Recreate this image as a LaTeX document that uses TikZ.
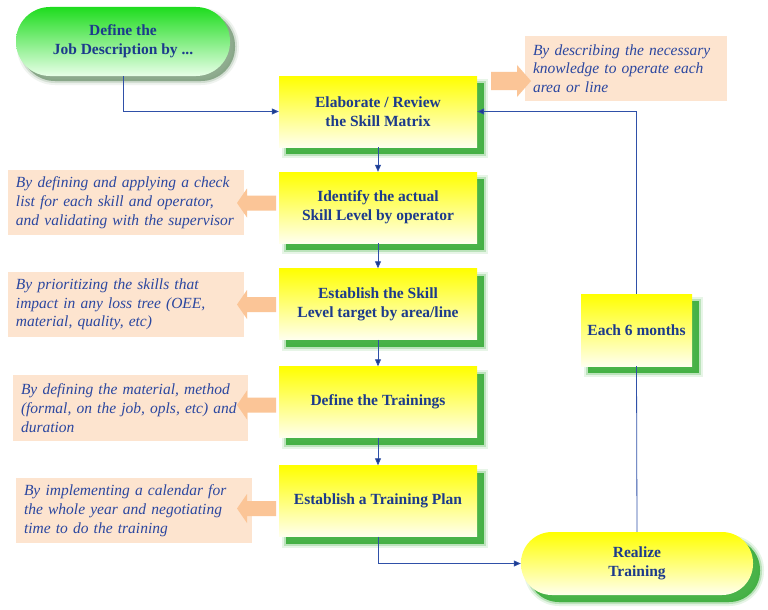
\documentclass[tikz,border=0pt]{standalone}
\usepackage{fontspec}
\setmainfont{Liberation Serif}
\usetikzlibrary{arrows.meta,shadows}
\definecolor{boxtext}{HTML}{1C3A8C}
\definecolor{notetext}{HTML}{2B47A0}
\definecolor{notefill}{HTML}{FDE4CF}
\definecolor{arrowfill}{HTML}{FBC597}
\definecolor{linecol}{HTML}{2F50A8}
\definecolor{tipcol}{HTML}{1C3A8C}
\definecolor{shadowgreen}{HTML}{3DAE3D}
\definecolor{shadowgray}{HTML}{7FA07F}
\definecolor{jobtop}{HTML}{1EDC1E}
\definecolor{jobmid}{HTML}{8CEB8C}
\definecolor{jobbottom}{HTML}{E8FFE8}
\definecolor{yeltop}{HTML}{FFFF00}
\definecolor{yelmid}{HTML}{FFFFB4}
\definecolor{yelbottom}{HTML}{FFFFEE}
\tikzset{
  greenshadow/.style={
    general shadow={fill=shadowgreen, draw=shadowgreen, line width=8pt, opacity=0.12, shadow xshift=7pt, shadow yshift=-7pt},
    general shadow={fill=shadowgreen, draw=shadowgreen, line width=4pt, opacity=0.25, shadow xshift=7pt, shadow yshift=-7pt},
    general shadow={fill=shadowgreen, opacity=0.9, shadow xshift=7pt, shadow yshift=-7pt}},
  grayshadow/.style={
    general shadow={fill=shadowgray, draw=shadowgray, line width=8pt, opacity=0.12, shadow xshift=5pt, shadow yshift=-5pt},
    general shadow={fill=shadowgray, draw=shadowgray, line width=4pt, opacity=0.25, shadow xshift=5pt, shadow yshift=-5pt},
    general shadow={fill=shadowgray, opacity=0.8, shadow xshift=5pt, shadow yshift=-5pt}},
  boxfont/.style={font=\bfseries\fontsize{15.5}{19}\selectfont, text=boxtext, align=center},
  yelshade/.style={top color=yeltop, middle color=yelmid, bottom color=yelbottom},
  stepbox/.style={rectangle, greenshadow, yelshade, boxfont, inner sep=0pt,
    minimum width=198pt, minimum height=71pt},
  notebox/.style={rectangle, fill=notefill, text=notetext, align=left,
    font=\itshape\fontsize{15.5}{18.7}\selectfont, inner xsep=8pt, inner ysep=0pt,
    minimum height=65pt},
  conn/.style={draw=linecol, line width=0.8pt},
  connarrow/.style={conn, -{Triangle[length=7pt,width=6pt,fill=tipcol]}},
  blockarrow/.style={fill=arrowfill}
}
\begin{document}
\begin{tikzpicture}[x=1pt,y=-1pt]
\useasboundingbox[fill=white] (0,0) rectangle (768,610);

% main flow boxes
\node[rectangle, rounded corners=34pt, grayshadow, top color=jobtop, middle color=jobmid, bottom color=jobbottom,
  boxfont, minimum width=214pt, minimum height=69pt, inner sep=0pt] (job) at (123,41.5)
  {Define the\\Job Description by ...};
\node[stepbox] (elab) at (378,111.5) {Elaborate / Review\\the Skill Matrix};
\node[stepbox] (ident) at (378,207.5) {Identify the actual\\Skill Level by operator};
\node[stepbox] (target) at (378,304) {Establish the Skill\\Level target by area/line};
\node[stepbox] (train) at (378,402) {Define the Trainings};
\node[stepbox] (plan) at (378,501) {Establish a Training Plan};
\node[rectangle, rounded corners=31pt, greenshadow, yelshade, boxfont,
  minimum width=232pt, minimum height=63pt, inner sep=0pt] (real) at (637,563.5) {Realize\\Training};
\node[stepbox, minimum width=111pt, minimum height=72pt] (each) at (636.5,330) {Each 6 months};

% notes
\node[notebox, text width=186pt] (n1) at (626,68.5)
  {By describing the necessary\\knowledge to operate each\\area or line};
\node[notebox, text width=220pt] (n2) at (126,202.5)
  {By defining and applying a check\\list for each skill and operator,\\and validating with the supervisor};
\node[notebox, text width=220pt] (n3) at (126,304.5)
  {By prioritizing the skills that\\impact in any loss tree (OEE,\\material, quality, etc)};
\node[notebox, text width=219pt, minimum height=66pt] (n4) at (130.5,408)
  {By defining the material, method\\(formal, on the job, opls, etc) and\\duration};
\node[notebox, text width=220pt] (n5) at (134,510.5)
  {By implementing a calendar for\\the whole year and negotiating\\time to do the training};

% block arrows
\fill[blockarrow] (531,81) -- (517,65) -- (517,72) -- (491,72) -- (491,90) -- (517,90) -- (517,97) -- cycle;
\foreach \c in {203,304.5,405,508.5}{
  \fill[blockarrow] (237,\c) -- (247,\c-14.5) -- (247,\c-7.5) -- (276,\c-7.5)
    -- (276,\c+7.5) -- (247,\c+7.5) -- (247,\c+14.5) -- cycle;
}

% connectors
\draw[connarrow] (job.south) |- (elab.west);
\draw[connarrow] (elab.south) -- (ident.north);
\draw[connarrow] (ident.south) -- (target.north);
\draw[connarrow] (target.south) -- (train.north);
\draw[connarrow] (train.south) -- (plan.north);
\draw[connarrow] (plan.south) |- (real.west);
\draw[conn] (real.north) -- (each.south);
\draw[connarrow] (each.north) |- (elab.east);
\end{tikzpicture}
\end{document}
